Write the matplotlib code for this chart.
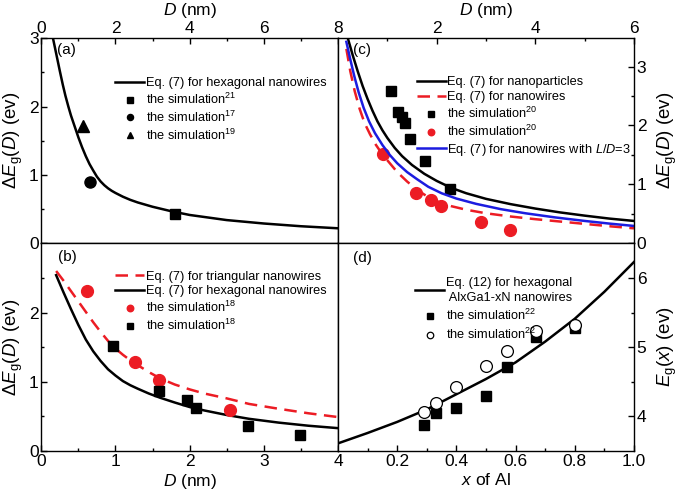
import matplotlib
matplotlib.use("Agg")
import matplotlib.pyplot as plt
from matplotlib.ticker import MultipleLocator, FixedLocator

plt.rcParams['font.family'] = ['Liberation Sans', 'DejaVu Sans']
plt.rcParams['mathtext.fontset'] = 'custom'
plt.rcParams['mathtext.rm'] = 'Liberation Sans'
plt.rcParams['mathtext.it'] = 'Liberation Sans:italic'
plt.rcParams['mathtext.bf'] = 'Liberation Sans:bold'

RED = '#ec1c24'
BLUE = '#1c1ce0'

# (a) hexagonal nanowires
a_curve_d = [0.315, 0.4, 0.5, 0.58, 0.65, 0.73, 0.8, 0.9, 1.0, 1.1, 1.2, 1.3, 1.4,
             1.5, 1.6, 1.7, 1.8, 1.9, 2.0, 2.2, 2.4, 2.6, 3.0, 3.5, 4.0, 5.0, 6.0,
             7.0, 8.0]
a_curve_e = [3.0, 2.78, 2.52, 2.32, 2.16, 2.0, 1.87, 1.71, 1.55, 1.405, 1.275, 1.16,
             1.065, 0.975, 0.905, 0.85, 0.805, 0.768, 0.737, 0.682, 0.636, 0.598, 0.535,
             0.47, 0.415, 0.34, 0.29, 0.25, 0.22]
a_sq_d, a_sq_e = [3.6], [0.43]
a_ci_d, a_ci_e = [1.3], [0.9]
a_tr_d, a_tr_e = [1.12], [1.71]

# (b) triangular vs hexagonal
b_hex_d = [0.2, 0.3, 0.4, 0.5, 0.6, 0.7, 0.8, 0.9, 1.0, 1.1, 1.2, 1.3, 1.45, 1.6,
           1.8, 2.0, 2.2, 2.5, 2.8, 3.2, 3.6, 4.0]
b_hex_e = [2.54, 2.29, 2.05, 1.82, 1.61, 1.44, 1.30, 1.18, 1.09, 1.01, 0.95, 0.90,
           0.83, 0.77, 0.70, 0.635, 0.585, 0.52, 0.465, 0.41, 0.365, 0.33]
b_tri_d = [0.2, 0.3, 0.4, 0.5, 0.6, 0.7, 0.8, 0.9, 1.0, 1.1, 1.2, 1.3, 1.45, 1.6,
           1.8, 2.0, 2.2, 2.5, 2.8, 3.2, 3.6, 4.0]
b_tri_e = [2.60, 2.46, 2.31, 2.16, 2.01, 1.86, 1.72, 1.59, 1.48, 1.39, 1.31, 1.24,
           1.14, 1.05, 0.96, 0.89, 0.83, 0.76, 0.68, 0.61, 0.545, 0.49]
b_ci_d = [0.62, 1.26, 1.59, 2.54]
b_ci_e = [2.31, 1.29, 1.03, 0.59]
b_sq_d = [0.96, 1.59, 1.97, 2.09, 2.79, 3.49]
b_sq_e = [1.51, 0.87, 0.74, 0.62, 0.36, 0.23]

# (c) nanoparticles / nanowires
c_np_d = [0.2, 0.3, 0.4, 0.5, 0.6, 0.7, 0.8, 0.9, 1.0, 1.15, 1.3, 1.5, 1.75, 2.0,
          2.3, 2.6, 3.0, 3.5, 4.0, 4.5, 5.0, 5.5, 6.0]
c_np_e = [3.48, 3.19, 2.92, 2.67, 2.45, 2.25, 2.07, 1.92, 1.79, 1.62, 1.48, 1.33,
          1.18, 1.06, 0.94, 0.85, 0.755, 0.665, 0.59, 0.525, 0.47, 0.42, 0.38]
c_nw_d = [0.17, 0.25, 0.34, 0.44, 0.54, 0.65, 0.77, 0.9, 1.05, 1.2, 1.4, 1.6, 1.8,
          2.0, 2.3, 2.6, 3.0, 3.5, 4.0, 4.5, 5.0, 5.5, 6.0]
c_nw_e = [3.3, 2.92, 2.58, 2.28, 2.04, 1.85, 1.67, 1.51, 1.36, 1.21, 1.05, 0.91,
          0.80, 0.715, 0.63, 0.57, 0.51, 0.455, 0.41, 0.37, 0.33, 0.29, 0.255]
c_ld_d = [0.17, 0.25, 0.33, 0.42, 0.52, 0.63, 0.75, 0.9, 1.05, 1.2, 1.4, 1.6, 1.83,
          2.1, 2.4, 2.8, 3.3, 3.8, 4.4, 5.0, 5.5, 6.0]
c_ld_e = [3.42, 3.12, 2.84, 2.56, 2.30, 2.07, 1.87, 1.67, 1.50, 1.36, 1.21, 1.09,
          0.96, 0.85, 0.76, 0.67, 0.58, 0.51, 0.44, 0.38, 0.335, 0.295]
c_sq_d = [1.08, 1.22, 1.29, 1.36, 1.46, 1.76, 2.27]
c_sq_e = [2.59, 2.23, 2.15, 2.05, 1.77, 1.39, 0.92]
c_ci_d = [0.92, 1.58, 1.88, 2.09, 2.90, 3.49]
c_ci_e = [1.52, 0.86, 0.74, 0.64, 0.37, 0.23]

# (d) AlxGa1-xN
d_curve_x = [0.0, 0.1, 0.2, 0.3, 0.4, 0.5, 0.6, 0.7, 0.8, 0.9, 1.0]
d_curve_e = [3.61, 3.76, 3.92, 4.1, 4.32, 4.54, 4.78, 5.08, 5.41, 5.8, 6.23]
d_x = [0.29, 0.33, 0.40, 0.50, 0.57, 0.67, 0.80]
d_sq_e = [3.88, 4.05, 4.12, 4.30, 4.72, 5.14, 5.27]
d_ci_e = [4.06, 4.19, 4.42, 4.73, 4.95, 5.23, 5.32]

ylab = r'$\Delta E_\mathrm{g}(D)$ (ev)'
dlab = r'$D$ (nm)'
TICK = 12.5
LAB = 12.5
YLAB = 13.5
LEG = 9.2
PANEL = 11
leg_kw = dict(loc='upper left', frameon=False, fontsize=LEG, borderpad=0,
              borderaxespad=0, handlelength=2.3, handletextpad=0.1, markerscale=0.55)

fig = plt.figure(figsize=(6.85, 4.98), dpi=100)
ax_a = fig.add_axes([0.0603, 0.5114, 0.4331, 0.4117])
ax_b = fig.add_axes([0.0603, 0.0944, 0.4331, 0.4170])
ax_c = fig.add_axes([0.4934, 0.5114, 0.4321, 0.4117])
ax_d = fig.add_axes([0.4934, 0.0944, 0.4321, 0.4170])

for ax in (ax_a, ax_b, ax_c, ax_d):
    for s in ax.spines.values():
        s.set_linewidth(1.0)
    ax.tick_params(which='both', direction='in', labelsize=TICK, width=1.0,
                   top=False, bottom=False, left=False, right=False,
                   labeltop=False, labelbottom=False, labelleft=False, labelright=False)
    ax.tick_params(which='major', length=4, pad=2)
    ax.tick_params(which='minor', length=2)

# ---- (a)
ax_a.plot(a_curve_d, a_curve_e, color='k', lw=1.8, label='Eq. (7) for hexagonal nanowires')
ax_a.plot(a_sq_d, a_sq_e, 's', color='k', ms=7, label='the simulation$^{21}$')
ax_a.plot(a_ci_d, a_ci_e, 'o', color='k', ms=8, label='the simulation$^{17}$')
ax_a.plot(a_tr_d, a_tr_e, '^', color='k', ms=9, label='the simulation$^{19}$')
ax_a.set_xlim(0, 8)
ax_a.set_ylim(0, 3)
ax_a.xaxis.set_major_locator(MultipleLocator(2))
ax_a.xaxis.set_minor_locator(MultipleLocator(1))
ax_a.yaxis.set_major_locator(MultipleLocator(1))
ax_a.yaxis.set_minor_locator(MultipleLocator(0.5))
ax_a.tick_params(which='both', top=True, left=True, labeltop=True, labelleft=True)
ax_a.xaxis.set_label_position('top')
ax_a.set_xlabel(dlab, fontsize=LAB, labelpad=4)
ax_a.set_ylabel(ylab, fontsize=YLAB, labelpad=3)
ax_a.text(0.053, 0.943, '(a)', transform=ax_a.transAxes, fontsize=PANEL, va='center')
ax_a.legend(bbox_to_anchor=(0.248, 0.81), labelspacing=0.2, **leg_kw)

# ---- (b)
ax_b.plot(b_tri_d, b_tri_e, '--', color=RED, lw=1.8, dashes=(5, 3),
          label='Eq. (7) for triangular nanowires')
ax_b.plot(b_hex_d, b_hex_e, color='k', lw=1.8, label='Eq. (7) for hexagonal nanowires')
ax_b.plot(b_ci_d, b_ci_e, 'o', color=RED, ms=8.5, label='the simulation$^{18}$')
ax_b.plot(b_sq_d, b_sq_e, 's', color='k', ms=7.5, label='the simulation$^{18}$')
ax_b.set_xlim(0, 4)
ax_b.set_ylim(0, 3)
ax_b.xaxis.set_major_locator(MultipleLocator(1))
ax_b.xaxis.set_minor_locator(MultipleLocator(0.5))
ax_b.yaxis.set_major_locator(FixedLocator([0, 1, 2]))
ax_b.yaxis.set_minor_locator(FixedLocator([0.5, 1.5, 2.5]))
ax_b.tick_params(which='both', bottom=True, left=True, labelbottom=True, labelleft=True)
ax_b.set_xlabel(dlab, fontsize=LAB, labelpad=2)
ax_b.set_ylabel(ylab, fontsize=YLAB, labelpad=3)
ax_b.text(0.056, 0.934, '(b)', transform=ax_b.transAxes, fontsize=PANEL, va='center')
ax_b.legend(bbox_to_anchor=(0.248, 0.869), labelspacing=0.22, **leg_kw)

# ---- (c)
ax_c.plot(c_np_d, c_np_e, color='k', lw=1.8, label='Eq. (7) for nanoparticles')
ax_c.plot(c_nw_d, c_nw_e, '--', color=RED, lw=1.8, dashes=(5, 3),
          label='Eq. (7) for nanowires')
ax_c.plot(c_sq_d, c_sq_e, 's', color='k', ms=7.5, label='the simulation$^{20}$')
ax_c.plot(c_ci_d, c_ci_e, 'o', color=RED, ms=8.5, label='the simulation$^{20}$')
ax_c.plot(c_ld_d, c_ld_e, color=BLUE, lw=1.8,
          label='Eq. (7) for nanowires with $L$/$D$=3')
ax_c.set_xlim(0, 6)
ax_c.set_ylim(0, 3.48)
ax_c.xaxis.set_major_locator(FixedLocator([2, 4, 6]))
ax_c.xaxis.set_minor_locator(FixedLocator([1, 3, 5]))
ax_c.yaxis.set_major_locator(MultipleLocator(1))
ax_c.yaxis.set_minor_locator(MultipleLocator(0.5))
ax_c.tick_params(which='both', top=True, right=True, labeltop=True, labelright=True)
ax_c.xaxis.set_label_position('top')
ax_c.yaxis.set_label_position('right')
ax_c.set_xlabel(dlab, fontsize=LAB, labelpad=4)
ax_c.set_ylabel(ylab, fontsize=YLAB, labelpad=7)
ax_c.text(0.05, 0.943, '(c)', transform=ax_c.transAxes, fontsize=PANEL, va='center')
ax_c.legend(bbox_to_anchor=(0.266, 0.815), labelspacing=0.22, **leg_kw)

# ---- (d)
ax_d.plot(d_curve_x, d_curve_e, color='k', lw=1.8,
          label='Eq. (12) for hexagonal\n AlxGa1-xN nanowires')
ax_d.plot(d_x, d_sq_e, 's', color='k', ms=7.5, label='the simulation$^{22}$')
ax_d.plot(d_x, d_ci_e, 'o', mfc='white', mec='k', mew=0.9, ms=8.5,
          label='the simulation$^{22}$')
ax_d.set_xlim(0, 1.0)
ax_d.set_ylim(3.5, 6.5)
ax_d.xaxis.set_major_locator(FixedLocator([0.2, 0.4, 0.6, 0.8, 1.0]))
ax_d.xaxis.set_minor_locator(FixedLocator([0.1, 0.3, 0.5, 0.7, 0.9]))
ax_d.yaxis.set_major_locator(FixedLocator([4, 5, 6]))
ax_d.yaxis.set_minor_locator(FixedLocator([4.5, 5.5]))
ax_d.tick_params(which='both', bottom=True, right=True, labelbottom=True, labelright=True)
ax_d.yaxis.set_label_position('right')
ax_d.set_xlabel(r'$x$ of Al', fontsize=LAB, labelpad=2)
ax_d.set_ylabel(r'$E_\mathrm{g}(x)$ (ev)', fontsize=YLAB, labelpad=7)
ax_d.text(0.052, 0.927, '(d)', transform=ax_d.transAxes, fontsize=PANEL, va='center')
leg_d = ax_d.legend(bbox_to_anchor=(0.26, 0.84), labelspacing=0.3, **leg_kw)
leg_d.get_texts()[0].set_linespacing(1.4)

fig.savefig('out.png', dpi=100)
